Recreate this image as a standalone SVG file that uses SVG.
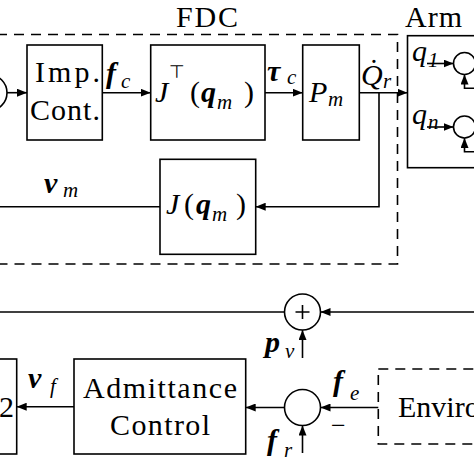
<svg xmlns="http://www.w3.org/2000/svg" width="474" height="474" viewBox="0 0 474 474">
<defs>
<marker id="ah" markerUnits="userSpaceOnUse" markerWidth="11" markerHeight="8" refX="10" refY="4" orient="auto">
<path d="M0,0 L10,4 L0,8 z" fill="#000"/>
</marker>
</defs>
<style>
.bx{fill:none;stroke:#000;stroke-width:1.6}
.dsh{fill:none;stroke:#000;stroke-width:1.6;stroke-dasharray:10 7}
.ln{fill:none;stroke:#000;stroke-width:1.6}
.ar{fill:none;stroke:#000;stroke-width:1.6;marker-end:url(#ah)}
.t{font-family:"Liberation Serif",serif;font-size:30px;fill:#000}
.mi{font-family:"Liberation Serif",serif;font-size:30px;font-style:italic;fill:#000}
.mb{font-family:"Liberation Serif",serif;font-size:30px;font-style:italic;font-weight:bold;fill:#000}
.ms{font-family:"Liberation Serif",serif;font-size:21px;font-style:italic;fill:#000}
.mr{font-family:"Liberation Serif",serif;font-size:30px;fill:#000}
.sup{font-family:"DejaVu Sans",sans-serif;font-size:18px;fill:#000}
.mn{font-family:"Liberation Serif",serif;font-size:26px;fill:#000}
</style>
<rect width="474" height="474" fill="#fff"/>

<g id="fdc">
<rect class="dsh" x="-20" y="34.5" width="417.5" height="229.5"/>
<text class="t" x="176" y="27" textLength="62">FDC</text>
</g>

<g id="sum-left"><circle class="bx" cx="-11" cy="92.7" r="18"/></g>

<g id="imp">
<rect class="bx" x="27" y="45" width="75.3" height="95"/>
<text class="t" x="35" y="82" textLength="65">Imp.</text>
<text class="t" x="30" y="120" textLength="70">Cont.</text>
</g>

<g id="jt">
<rect class="bx" x="150.7" y="45" width="114.3" height="95"/>
<text class="mi" x="155" y="102">J</text>
<text class="sup" x="169" y="78">⊤</text>
<text class="mr" x="190" y="102">(</text>
<text class="mb" x="201" y="102">q</text>
<text class="ms" x="217" y="109">m</text>
<text class="mr" x="244" y="102">)</text>
</g>

<g id="pm">
<rect class="bx" x="302.7" y="45" width="56.6" height="95"/>
<text class="mi" x="309" y="102">P</text>
<text class="ms" x="328" y="106">m</text>
</g>

<g id="jq">
<rect class="bx" x="160" y="159.3" width="95.7" height="95"/>
<text class="mi" x="166" y="214">J</text>
<text class="mr" x="184" y="214">(</text>
<text class="mb" x="196" y="214">q</text>
<text class="ms" x="212" y="221">m</text>
<text class="mr" x="236" y="214">)</text>
</g>

<g id="arm">
<rect class="bx" x="407.5" y="35.7" width="80" height="132"/>
<text class="t" x="405" y="27" textLength="57">Arm</text>
<text class="mi" x="412" y="61">q</text>
<text class="ms" x="428" y="67">1</text>
<circle class="bx" cx="464.5" cy="63.5" r="11"/>
<text class="mi" x="412" y="124">q</text>
<text class="ms" x="428" y="129">n</text>
<circle class="bx" cx="464.5" cy="127" r="11"/>
</g>

<g id="sum-top">
<circle class="bx" cx="302.5" cy="312" r="18"/>
<path class="ln" d="M295.5,312 H309.5 M302.5,305 V319"/>
</g>

<g id="sum-bottom">
<circle class="bx" cx="302.5" cy="407.5" r="18"/>
<text class="mn" x="331" y="434">−</text>
</g>

<g id="admittance">
<rect class="bx" x="74" y="359" width="171.7" height="95"/>
<text class="t" x="83" y="398" textLength="154">Admittance</text>
<text class="t" x="110" y="435" textLength="100">Control</text>
</g>

<g id="left-block">
<rect class="bx" x="-60" y="359" width="76.7" height="95"/>
<text class="mr" x="14" y="417" text-anchor="end">2</text>
</g>

<g id="environment">
<rect class="dsh" x="378.3" y="369" width="120" height="75"/>
<text class="t" x="398" y="417">Environment</text>
</g>

<g id="connectors">
<path class="ar" d="M7,92.7 H27"/>
<path class="ar" d="M102.3,92.7 H150.7"/>
<path class="ar" d="M265,92.7 H302.7"/>
<path class="ar" d="M359.3,92.7 H407.5"/>
<path class="ar" d="M379,92.7 V206.7 H255.7"/>
<path class="ln" d="M160,206.7 H0"/>
<path class="ln" d="M284.5,312 H0"/>
<path class="ar" d="M474,312 H320.5"/>
<path class="ar" d="M302.5,358 V330"/>
<path class="ar" d="M284.5,407.5 H245.7"/>
<path class="ar" d="M74,406.7 H16.7"/>
<path class="ar" d="M378.3,407.5 H320.5"/>
<path class="ar" d="M302.5,453 V425.5"/>
<path class="ar" d="M427,63.5 H453.5"/>
<path class="ar" d="M474,88.3 H464.5 V74.5"/>
<path class="ar" d="M427,127 H453.5"/>
<path class="ar" d="M474,151.7 H464.5 V138"/>
</g>

<g id="labels">
<text class="mb" x="106" y="83">f</text>
<text class="ms" x="121" y="88">c</text>
<text class="mb" x="267" y="81">τ</text>
<text class="ms" x="287" y="84">c</text>
<text class="mi" x="361" y="85">Q&#x307;</text>
<text class="ms" x="383" y="88">r</text>
<text class="mb" x="44" y="193">v</text>
<text class="ms" x="63" y="197">m</text>
<text class="mb" x="28" y="388">v</text>
<text class="ms" x="50" y="393">f</text>
<text class="mb" x="265" y="352">p</text>
<text class="ms" x="285" y="358">v</text>
<text class="mb" x="333" y="391">f</text>
<text class="ms" x="350" y="400">e</text>
<text class="mb" x="267" y="450">f</text>
<text class="ms" x="284" y="457">r</text>
</g>
</svg>
